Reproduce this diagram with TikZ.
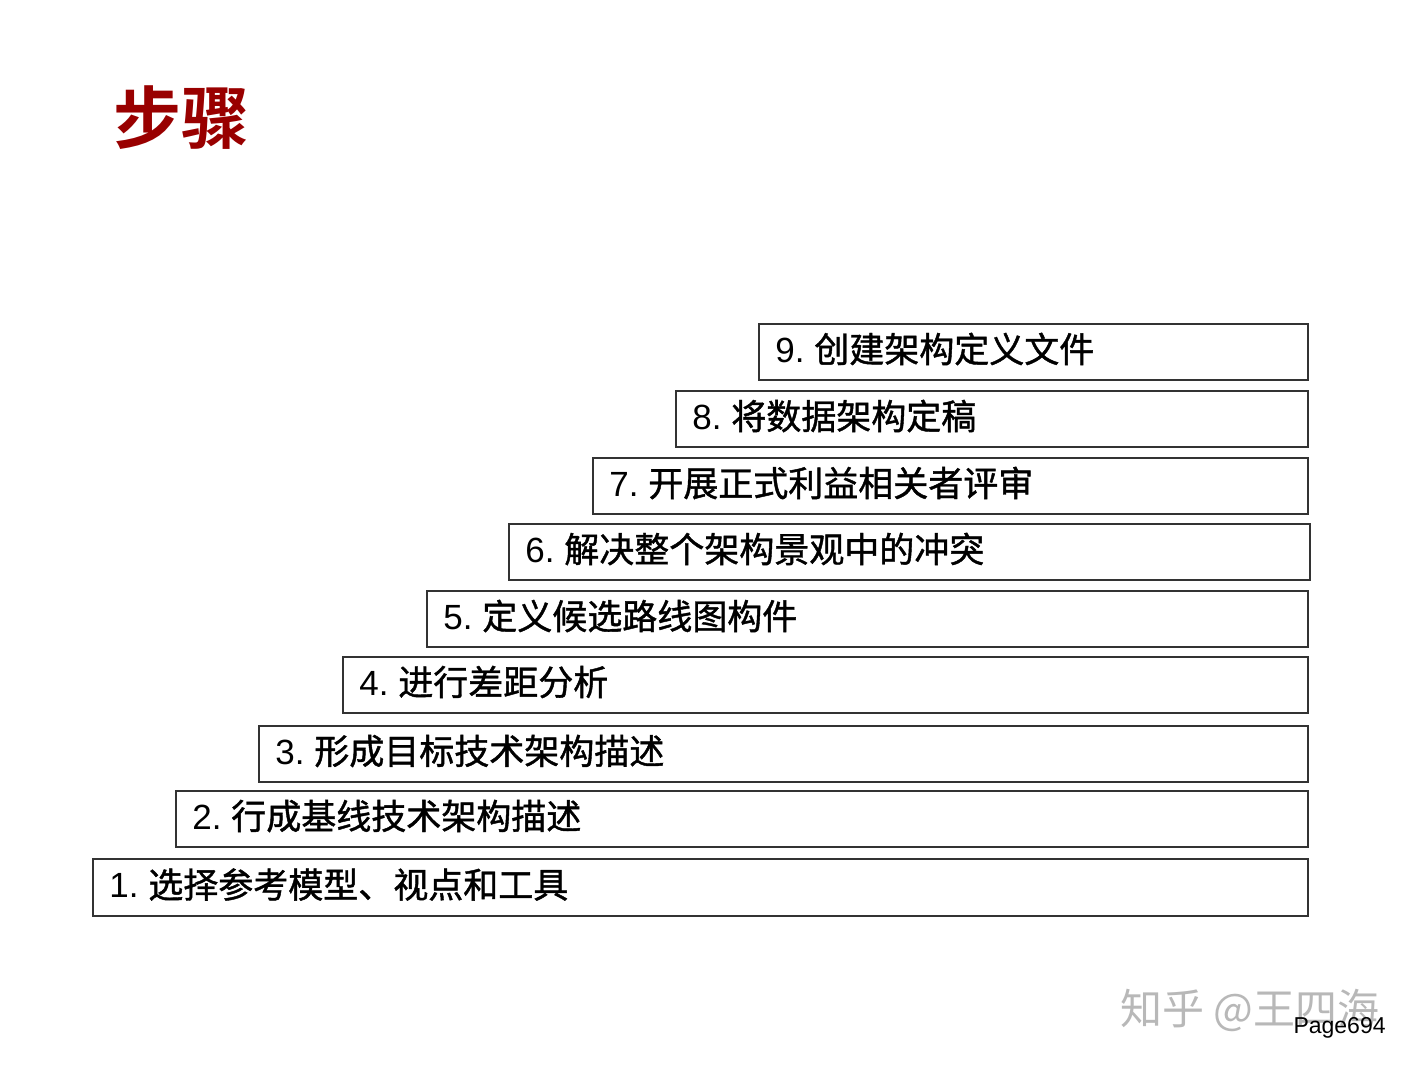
\documentclass[tikz,border=0pt]{standalone}
\usepackage{fontspec}
\setmainfont{Liberation Sans}
\newfontfamily\cjk[FakeBold=1.2]{Noto Sans CJK SC}
\newfontfamily\cjkplain{Noto Sans CJK SC}
\newfontfamily\cjkbold{Noto Sans CJK SC Bold}
\newcommand{\stepitem}[2]{#1.\ {\cjk #2}}
\definecolor{titlered}{HTML}{990000}
\definecolor{boxline}{HTML}{333333}
\definecolor{wmgray}{HTML}{B8B8B8}
\begin{document}
\begin{tikzpicture}[x=0.5pt,y=-0.5pt,
  stepbox/.style={draw=boxline,line width=1pt,fill=white},
  steptext/.style={anchor=west,inner sep=0pt,font=\fontsize{17.5pt}{19pt}\selectfont}]
\useasboundingbox (0,0) rectangle (1422,1067);
\node[font=\cjkbold\fontsize{34pt}{38pt}\selectfont,text=titlered,anchor=west,inner sep=0pt] (title) at (113,118) {步骤};
% boxes: left, top, right, bottom
\foreach \n/\l/\t/\r/\b/\txt in {
  9/759/324/1308/380/{\stepitem{9}{创建架构定义文件}},
  8/676/391/1308/447/{\stepitem{8}{将数据架构定稿}},
  7/593/458/1308/514/{\stepitem{7}{开展正式利益相关者评审}},
  6/509/524/1310/580/{\stepitem{6}{解决整个架构景观中的冲突}},
  5/427/591/1308/647/{\stepitem{5}{定义候选路线图构件}},
  4/343/657/1308/713/{\stepitem{4}{进行差距分析}},
  3/259/726/1308/782/{\stepitem{3}{形成目标技术架构描述}},
  2/176/791/1308/847/{\stepitem{2}{行成基线技术架构描述}},
  1/93/859/1308/916/{\stepitem{1}{选择参考模型、视点和工具}}}{
  \draw[stepbox] (\l,\t) rectangle (\r,\b);
  \node[steptext] (s\n) at ({\l+16},{(\t+\b)/2-3}) {\txt};
}
\node[font=\cjkplain\fontsize{21pt}{24pt}\selectfont,text=wmgray,anchor=west,inner sep=0pt] (wm) at (1120,1010) {知乎 @王四海};
\node[font=\fontsize{11.5pt}{13pt}\selectfont,anchor=base east,inner sep=0pt] (page) at (1386,1033) {Page694};
\end{tikzpicture}
\end{document}
